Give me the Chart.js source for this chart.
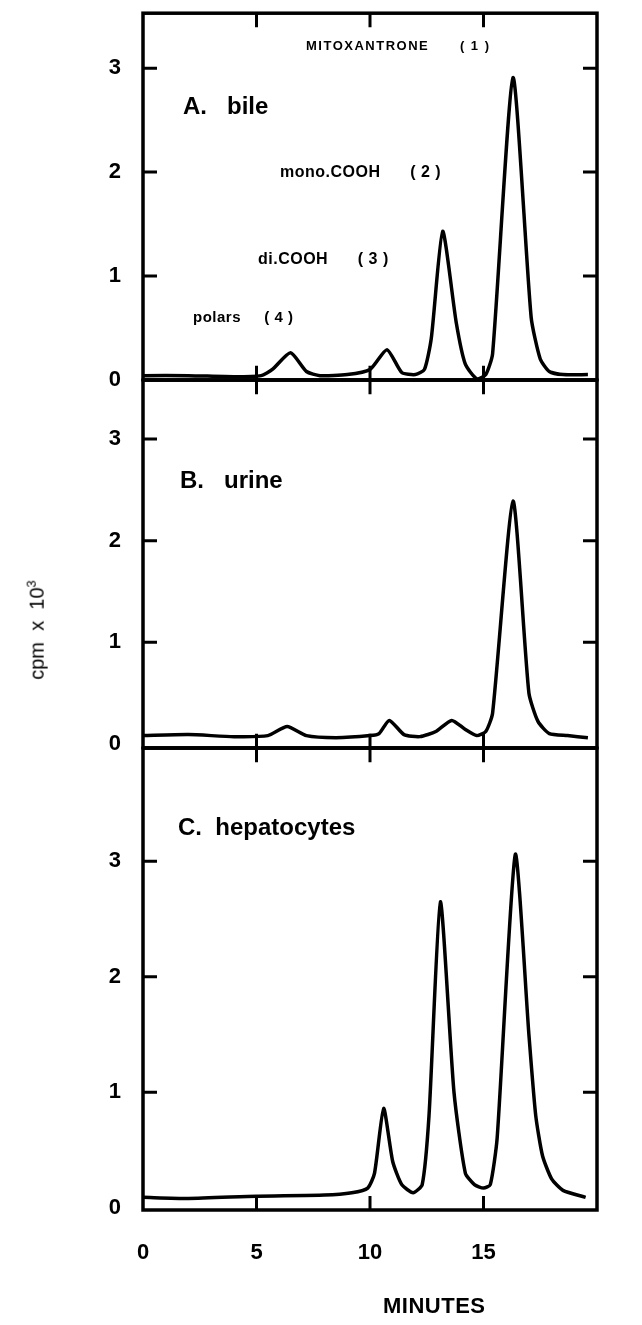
<!DOCTYPE html>
<html><head><meta charset="utf-8">
<script src="https://cdn.jsdelivr.net/npm/chart.js@4/dist/chart.umd.min.js"></script>
<style>
html,body{margin:0;padding:0;background:#fff;width:642px;height:1325px;overflow:hidden;position:relative}
.w{position:absolute;left:0;width:642px}
.t{position:absolute;font-family:"Liberation Sans",Arial,sans-serif;font-weight:bold;color:#000;white-space:pre}
</style></head><body>
<div class="w" style="top:-22px;height:437px"><canvas id="cA"></canvas></div>
<div class="w" style="top:345px;height:438px"><canvas id="cB"></canvas></div>
<div class="w" style="top:713px;height:612px"><canvas id="cC"></canvas></div>
<div class="t" style="left:183px;top:92px;font-size:24px">A.   bile</div>
<div class="t" style="left:306px;top:38px;font-size:13px;letter-spacing:1.5px">MITOXANTRONE      ( 1 )</div>
<div class="t" style="left:280px;top:163px;font-size:16px;letter-spacing:0.5px">mono.COOH      ( 2 )</div>
<div class="t" style="left:258px;top:250px;font-size:16px;letter-spacing:0.5px">di.COOH      ( 3 )</div>
<div class="t" style="left:193px;top:308px;font-size:15px;letter-spacing:0.5px">polars     ( 4 )</div>
<div class="t" style="left:180px;top:466px;font-size:24px">B.   urine</div>
<div class="t" style="left:178px;top:813px;font-size:24px">C.  hepatocytes</div>
<div class="t" style="left:383px;top:1293px;font-size:22px;letter-spacing:0.5px">MINUTES</div>
<div class="t" style="left:36px;top:630px;font-size:20px;font-weight:normal;transform:translate(-50%,-50%) rotate(-90deg)">cpm  x  10<sup style="font-size:13px">3</sup></div>
<script>
// ---- data ----
const xTicks = [0, 5, 10, 15];
const yTicks = [0, 1, 2, 3];
const timesA  = [0, 2, 4, 5.2, 5.7, 6.5, 7.2, 7.8, 9, 10, 10.75, 11.4, 12, 12.4, 12.7, 13.2, 13.8, 14.2, 14.7, 15.1, 15.4, 16.3, 17.1, 17.5, 17.9, 18.5, 19.6];
const valuesA = [0.04,0.04,0.03,0.04,0.1,0.26,0.08,0.04,0.05,0.1,0.29,0.07,0.05,0.1,0.4,1.43,0.55,0.15,0.01,0.05,0.25,2.91,0.6,0.2,0.08,0.05,0.05];
const timesB  = [0, 2, 4, 5.5, 6.35, 7.2, 8.5, 10, 10.4, 10.85, 11.5, 12.2, 12.9, 13.6, 14.2, 14.7, 15.1, 15.4, 16.3, 17.0, 17.4, 17.9, 18.7, 19.6];
const valuesB = [0.08,0.09,0.07,0.08,0.17,0.08,0.06,0.08,0.1,0.23,0.09,0.07,0.12,0.23,0.14,0.08,0.12,0.3,2.39,0.5,0.22,0.1,0.08,0.06];
const timesC  = [0, 2, 5, 8, 9.2, 9.9, 10.2, 10.6, 11.0, 11.4, 11.9, 12.3, 12.6, 13.1, 13.7, 14.2, 14.6, 15.0, 15.3, 15.6, 16.4, 17.0, 17.3, 17.6, 18.0, 18.5, 19.5];
const valuesC = [0.09,0.08,0.1,0.11,0.13,0.17,0.3,0.86,0.4,0.2,0.13,0.2,0.8,2.65,1.0,0.3,0.2,0.17,0.2,0.6,3.06,1.5,0.8,0.45,0.25,0.15,0.09];
const xMin = 0, xMax = 20;

const FONT = {family:'"Liberation Sans", Arial, sans-serif', size:22, weight:'bold'};

const framePlugin = {
  id:'frame',
  afterDraw(chart){
    const {ctx, chartArea:a, scales} = chart;
    ctx.save();
    ctx.strokeStyle = '#000'; ctx.lineWidth = 3.5;
    ctx.strokeRect(a.left, a.top, a.right-a.left, a.bottom-a.top);
    ctx.lineWidth = 3;
    const L = 14;
    [5,10,15].forEach(v=>{
      const x = scales.x.getPixelForValue(v);
      ctx.beginPath(); ctx.moveTo(x,a.top); ctx.lineTo(x,a.top+L);
      ctx.moveTo(x,a.bottom); ctx.lineTo(x,a.bottom-L); ctx.stroke();
    });
    [1,2,3].forEach(v=>{
      const y = scales.y.getPixelForValue(v);
      ctx.beginPath(); ctx.moveTo(a.left,y); ctx.lineTo(a.left+L,y);
      ctx.moveTo(a.right,y); ctx.lineTo(a.right-L,y); ctx.stroke();
    });
    ctx.restore();
  }
};

function make(id, times, values, yMin, yMax, padBottom, showX){
  const xs = {type:'linear', min:xMin, max:xMax, display:showX,
     border:{display:false}, grid:{display:false, drawTicks:false},
     afterBuildTicks:s=>{s.ticks = xTicks.map(v=>({value:v}));},
     ticks:{color:'#000', font:FONT, padding:30, maxRotation:0}};
  if (showX) xs.afterFit = s=>{s.height = 115;};
  return new Chart(document.getElementById(id), {
    type:'line',
    data:{datasets:[{data:times.map((t,i)=>({x:t,y:values[i]})),
      borderColor:'#000', borderWidth:3.5, pointRadius:0, tension:0.2, fill:false}]},
    options:{
      responsive:true, animation:false, maintainAspectRatio:false,
      layout:{padding:{left:0,right:45,top:0,bottom:padBottom}},
      plugins:{legend:{display:false}, tooltip:{enabled:false}},
      scales:{
        x:xs,
        y:{type:'linear', min:yMin, max:yMax,
           border:{display:false}, grid:{display:false, drawTicks:false},
           afterBuildTicks:s=>{s.ticks = yTicks.map(v=>({value:v}));},
           afterFit:s=>{s.width = 143;},
           ticks:{color:'#000', font:FONT, padding:22}}
      }
    },
    plugins:[framePlugin]
  });
}
make('cA',timesA,valuesA,0,3.53,10,false);
make('cB',timesB,valuesB,-0.04,3.58,10,false);
make('cC',timesC,valuesC,-0.02,3.98,0,true);
</script></body></html>
